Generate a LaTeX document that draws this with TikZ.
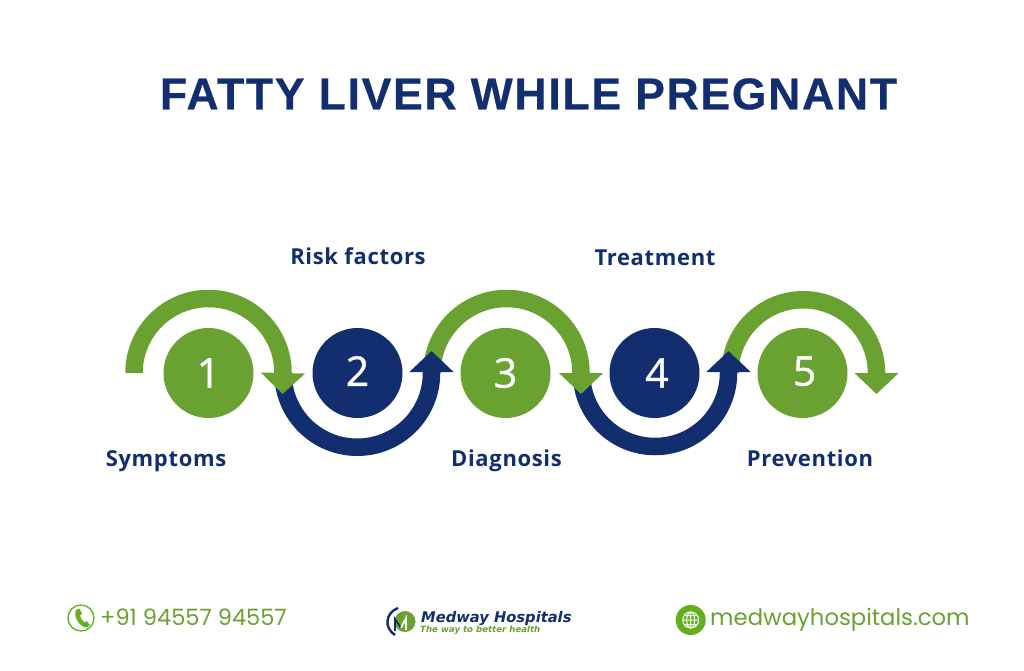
\documentclass[tikz,border=0pt]{standalone}
\usepackage{fontspec}
\setmainfont{Open Sans}
\newfontfamily\footfont{Poppins}
\newfontfamily\titlefont[LetterSpace=3.9,FakeBold=0.5]{Liberation Sans}
\newfontfamily\labelfont[LetterSpace=3]{Open Sans}
\newfontfamily\digitfont[FakeBold=0.9]{Open Sans}
\newfontfamily\logofont{DejaVu Sans}
\usetikzlibrary{arrows.meta}
\definecolor{leaf}{RGB}{106,162,50}
\definecolor{navy}{RGB}{18,46,110}
\definecolor{phonegreen}{RGB}{98,176,30}

\begin{document}
\begin{tikzpicture}[x=1pt,y=-1pt,node distance=149pt,
	main node/.style={circle,fill=#1,text=white,minimum size=90pt,inner sep=0pt,font=\digitfont\fontsize{41}{41}\selectfont},
	label node/.style={text=navy,font=\labelfont\fontsize{22}{22}\selectfont\bfseries,inner sep=0pt,anchor=base},
	foot node/.style={text=leaf,font=\footfont,inner sep=0pt,anchor=base west},
	swoop/.style={#1,line width=17.5pt,-{Triangle[length=21pt,width=43pt]}}]
	\useasboundingbox (0,0) rectangle (1024,671);
	\fill[white] (0,0) rectangle (1024,671);

	% Titulo
	\node[text=navy,font=\titlefont\fontsize{44.5}{44.5}\selectfont\bfseries,inner sep=0pt] (title) at (528.5,94) {FATTY LIVER WHILE PREGNANT};

	% Definicion de los circulos
	\node[main node=leaf] (1) at (208.5,373) {1};
	\node[main node=navy] (2) [right of=1] {\raisebox{4pt}{2}};
	\node[main node=leaf] (3) [right of=2,node distance=148pt] {3};
	\node[main node=navy] (4) [right of=3] {\hspace*{5pt}4};
	\node[main node=leaf] (5) [right of=4,node distance=148pt] {\hspace*{4pt}\raisebox{4pt}{5}};

	% Extremos de las flechas
	\coordinate (s1) at (134,373);   \coordinate (t1) at (282.5,394);
	\coordinate (s2) at (283,373);   \coordinate (t2) at (431.5,351);
	\coordinate (s3) at (432,373);   \coordinate (t3) at (581,394);
	\coordinate (s4) at (581.5,373); \coordinate (t4) at (728.5,351);
	\coordinate (s5) at (730,373);   \coordinate (t5) at (876.5,394);

	% Flechas: cada una tapa el inicio de la siguiente
	\draw[swoop=leaf] (s5) arc[start angle=180,end angle=360,radius=73.25] -- (t5);
	\draw[swoop=navy] (s4) arc[start angle=180,end angle=0,radius=73.5] -- (t4);
	\draw[swoop=leaf] (s3) arc[start angle=180,end angle=360,radius=74.5] -- (t3);
	\draw[swoop=navy] (s2) arc[start angle=180,end angle=0,radius=74.25] -- (t2);
	\draw[swoop=leaf] (s1) arc[start angle=180,end angle=360,radius=74.5] -- (t1);

	% Etiquetas
	\node[label node] (symptoms) at (166,466) {Symptoms};
	\node[label node] (risk) at (358,264) {Risk factors};
	\node[label node] (diagnosis) at (506.5,466) {Diagnosis};
	\node[label node] (treatment) at (655,265) {Treatment};
	\node[label node] (prevention) at (810,466) {Prevention};

	% Pie: telefono
	\node[circle,draw=phonegreen,line width=1.3pt,minimum size=26pt,inner sep=0pt] (phone) at (81,618) {};
	\fill[phonegreen] (76,610) -- (79.5,608.5) -- (82,613.5) -- (80,615.5) .. controls (80.5,618) and (82,621) .. (84.5,622.5) -- (86.5,621) -- (90,625) -- (87,627.5) .. controls (79,627) and (73,616) .. (76,610) -- cycle;
	\node[foot node,font=\footfont\fontsize{22.5}{22.5}\selectfont] (number) at (100,625) {+91 94557 94557};

	% Pie: logo
	\fill[leaf] (405,621.5) circle (10.5pt);
	\draw[navy,line width=2.4pt] (398,608) .. controls (385,613) and (384,628) .. (395,635);
	\draw[navy,line width=1.6pt] (395,631) -- (395,619) -- (401,628);
	\draw[white,line width=1.6pt] (401,628) -- (406,618) -- (406,630);
	\node[text=navy,font=\logofont\fontsize{14.7}{14.7}\selectfont\bfseries\itshape,inner sep=0pt,anchor=west] (medway) at (421,618) {Medway Hospitals};
	\node[text=leaf,font=\logofont\fontsize{8.6}{8.6}\selectfont\bfseries\itshape,inner sep=0pt,anchor=west] (motto) at (420,630) {The way to better health};

	% Pie: web
	\fill[phonegreen] (690.7,620) circle (15pt);
	\draw[white,line width=1pt] (690.7,620) circle (8pt) (682.7,620) -- (698.7,620) (684.2,615.5) -- (697.2,615.5) (684.2,624.5) -- (697.2,624.5) (690.7,612) -- (690.7,628);
	\draw[white,line width=1pt] (690.7,620) ellipse (4pt and 8pt);
	\node[foot node,font=\footfont\fontsize{22.75}{22.75}\selectfont] (web) at (710,625) {medwayhospitals.com};
\end{tikzpicture}
\end{document}
